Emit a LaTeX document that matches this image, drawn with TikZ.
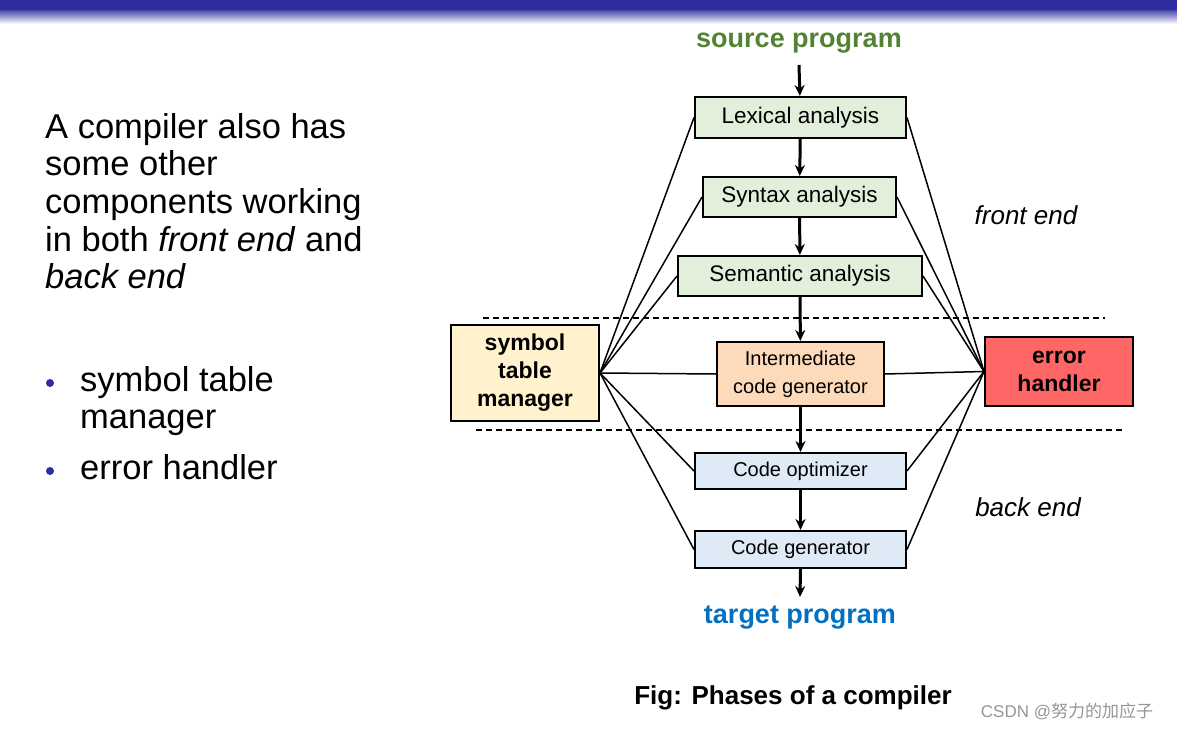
\documentclass[tikz,border=0pt]{standalone}
\usepackage{fontspec}
\setmainfont{Liberation Sans}
\newfontfamily\cjk{Noto Sans CJK SC}
\usetikzlibrary{arrows.meta}
\definecolor{barblue}{RGB}{46,46,160}
\definecolor{gfill}{RGB}{226,239,218}
\definecolor{ofill}{RGB}{253,218,185}
\definecolor{bfill}{RGB}{222,235,247}
\definecolor{yfill}{RGB}{255,242,204}
\definecolor{rfill}{RGB}{255,102,102}
\definecolor{srcgreen}{RGB}{84,130,53}
\definecolor{tgtblue}{RGB}{0,112,192}
\definecolor{wmgray}{RGB}{150,150,150}
\begin{document}
\begin{tikzpicture}[x=1pt,y=-1pt,
  box/.style={draw,line width=2pt,minimum height=#1,inner sep=0pt,font=\fontsize{22.5}{26}\selectfont},
  lk/.style={line width=1.5pt},
  ar/.style={line width=3pt,-{Stealth[length=11pt,width=10pt]}},
  dsh/.style={line width=1.5pt,dash pattern=on 6pt off 4pt}]
\useasboundingbox (0,0) rectangle (1177,730);
\fill[white] (0,0) rectangle (1177,730);
\shade[top color=barblue,bottom color=white] (0,8) rectangle (1177,24);
\fill[barblue] (0,0) rectangle (1177,10);
\node[font=\fontsize{27}{30}\selectfont\bfseries,text=srcgreen] (src) at (799,43) {source program};
\node[box=41pt,minimum width=211pt,fill=gfill] (lex) at (800.5,117.5) {Lexical analysis};
\node[box=40pt,minimum width=193pt,fill=gfill] (syn) at (799.5,197) {Syntax analysis};
\node[box=40pt,minimum width=244pt,fill=gfill] (sem) at (800,276) {Semantic analysis};
\node[box=64pt,minimum width=167pt,fill=ofill,align=center,font=\fontsize{20}{28}\selectfont] (icg) at (800.5,374) {Intermediate\\code generator};
\node[box=36pt,minimum width=211pt,fill=bfill,font=\fontsize{20}{22}\selectfont] (opt) at (800.5,471) {Code optimizer};
\node[box=37pt,minimum width=211pt,fill=bfill,font=\fontsize{20}{22}\selectfont] (gen) at (800.5,549.5) {Code generator};
\node[box=96pt,minimum width=148pt,fill=yfill,align=center,font=\fontsize{23}{28}\selectfont\bfseries] (sym) at (525,373) {symbol\\table\\manager};
\node[box=69pt,minimum width=148pt,fill=rfill,align=center,font=\fontsize{23}{28}\selectfont\bfseries] (err) at (1059,371.5) {error\\handler};
\node[font=\fontsize{27}{30}\selectfont\bfseries,text=tgtblue] (tgt) at (800,618) {target program};
\coordinate (s0) at (799,65);
\coordinate (t0) at (800,597);
\draw[ar] (s0) -- (lex);
\draw[ar] (lex) -- (syn);
\draw[ar] (syn) -- (sem);
\draw[ar] (sem) -- (icg);
\draw[ar] (icg) -- (opt);
\draw[ar] (opt) -- (gen);
\draw[ar] (gen.south) -- (t0);
\foreach \n in {lex,syn,sem,icg,opt,gen}{
  \draw[lk] (sym.east) -- (\n.west);
  \draw[lk] (err.west) -- (\n.east);
}
\coordinate (d1a) at (483,318); \coordinate (d1b) at (1105,318);
\coordinate (d2a) at (476,430); \coordinate (d2b) at (1125,430);
\draw[dsh] (d1a) -- (d1b);
\draw[dsh] (d2a) -- (d2b);
\node[font=\fontsize{26}{30}\selectfont\itshape] (fe) at (1026,215) {front end};
\node[font=\fontsize{26}{30}\selectfont\itshape] (be) at (1028,507) {back end};
\node[font=\fontsize{26}{30}\selectfont\bfseries] (fig) at (793,698) {Fig: Phases of a compiler};
\node[font=\fontsize{17}{20}\selectfont,text=wmgray] (wm) at (1067,711) {CSDN @{\cjk 努力的加应子}};
\node[anchor=north west,align=left,font=\fontsize{34.5}{37.6}\selectfont,inner sep=0pt] (txt) at (45,113) {A compiler also has\\some other\\components working\\in both \textit{front end} and\\\textit{back end}};
\node[anchor=north west,align=left,font=\fontsize{34.5}{37.6}\selectfont,inner sep=0pt] (b1) at (80,366) {symbol table\\manager};
\node[anchor=north west,align=left,font=\fontsize{34.5}{37.6}\selectfont,inner sep=0pt] (b2) at (80,454) {error handler};
\fill[barblue] (50,383) circle (4pt) (50,471) circle (4pt);
\end{tikzpicture}
\end{document}
